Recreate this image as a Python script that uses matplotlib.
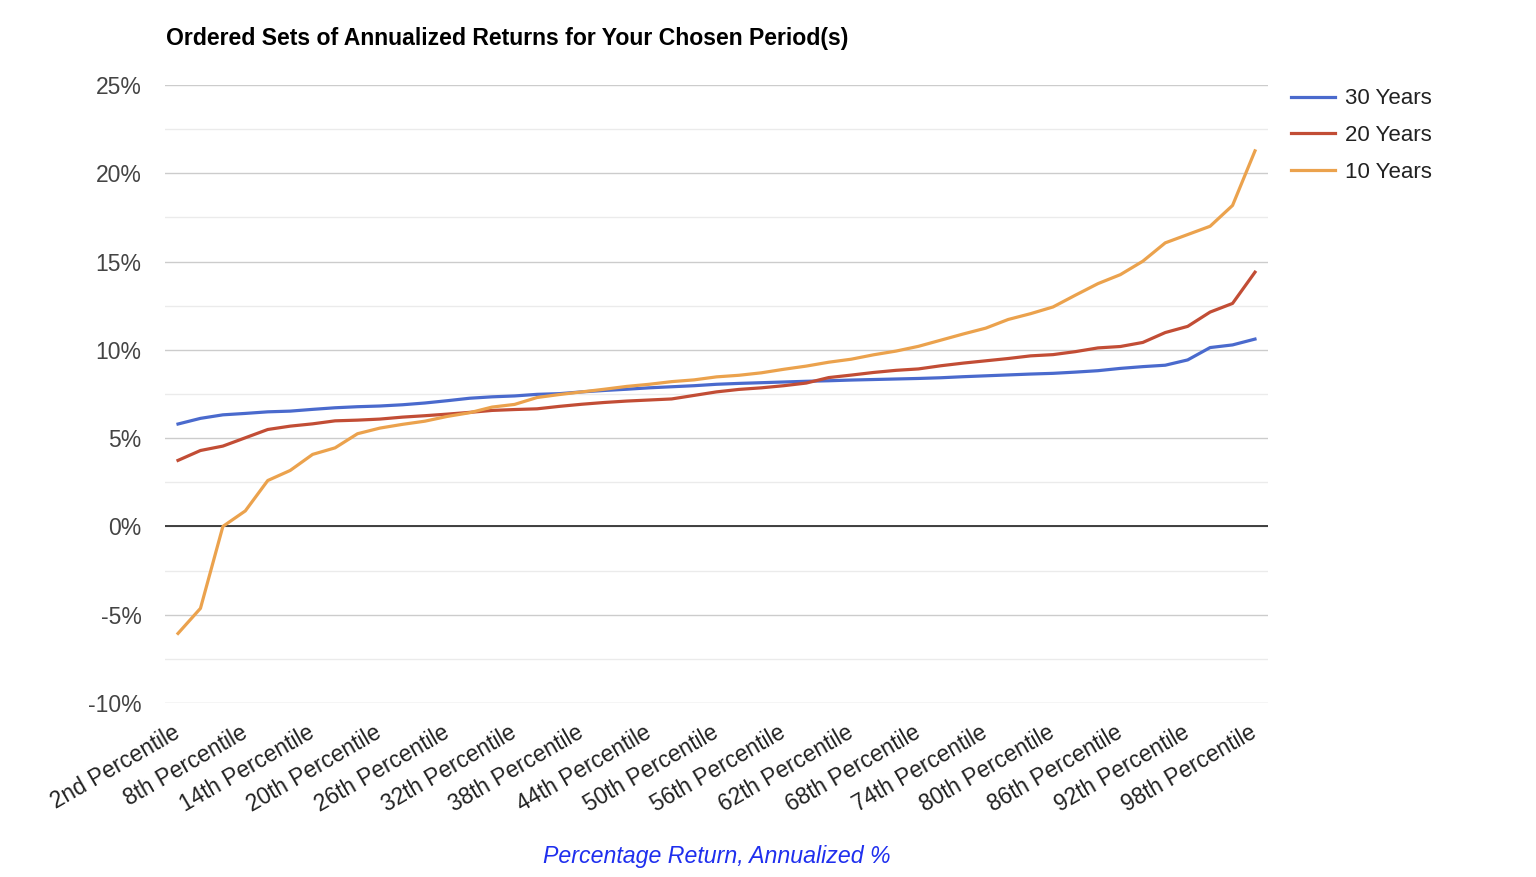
import numpy as np
import matplotlib.pyplot as plt

plt.rcParams['font.family'] = ['Liberation Sans', 'DejaVu Sans']

#%% Data (annualized return, %)

pct = list(range(2, 100, 2))
labels = [f"{p}{'nd' if p == 2 else 'th'} Percentile" for p in pct]

ret_30y = [5.80, 6.12, 6.32, 6.40, 6.49, 6.53, 6.63, 6.72, 6.78, 6.82,
           6.89, 6.99, 7.12, 7.26, 7.34, 7.39, 7.48, 7.52, 7.62, 7.70,
           7.77, 7.85, 7.91, 7.97, 8.05, 8.10, 8.14, 8.18, 8.22, 8.25,
           8.29, 8.32, 8.35, 8.38, 8.42, 8.48, 8.53, 8.58, 8.63, 8.67,
           8.74, 8.82, 8.95, 9.05, 9.13, 9.43, 10.13, 10.28, 10.61]

ret_20y = [3.74, 4.30, 4.55, 5.02, 5.49, 5.68, 5.81, 5.98, 6.02, 6.08,
           6.19, 6.27, 6.36, 6.46, 6.57, 6.62, 6.66, 6.80, 6.92, 7.02,
           7.10, 7.16, 7.22, 7.42, 7.62, 7.76, 7.85, 7.97, 8.12, 8.43,
           8.57, 8.72, 8.84, 8.92, 9.10, 9.25, 9.38, 9.51, 9.66, 9.73,
           9.90, 10.11, 10.19, 10.42, 10.98, 11.33, 12.14, 12.63, 14.40]

ret_10y = [-6.06, -4.64, 0.00, 0.88, 2.60, 3.17, 4.08, 4.45, 5.25, 5.57,
           5.78, 5.96, 6.23, 6.44, 6.76, 6.91, 7.30, 7.47, 7.62, 7.77,
           7.93, 8.05, 8.20, 8.30, 8.47, 8.56, 8.70, 8.90, 9.08, 9.30,
           9.47, 9.72, 9.93, 10.20, 10.55, 10.90, 11.23, 11.72, 12.05, 12.43,
           13.10, 13.75, 14.26, 15.02, 16.06, 16.53, 17.00, 18.18, 21.27]

series = [("30 Years", ret_30y, '#4a6acd'),
          ("20 Years", ret_20y, '#c24d35'),
          ("10 Years", ret_10y, '#eba24d')]

#%% Plot

fig = plt.figure(figsize=(15.36, 8.77), dpi=100)
ax = fig.add_axes([165/1536, 1-703/877, 1103/1536, 618/877])

x = np.arange(len(pct))
for name, vals, col in series:
    ax.plot(x, vals, color=col, lw=2.3, label=name, zorder=3)

ax.set_xlim(-0.58, len(pct) - 1 + 0.58)
ax.set_ylim(-10, 25)

ax.set_yticks(np.arange(-10, 26, 5))
ax.set_yticklabels([f"{v}%" for v in range(-10, 26, 5)])
ax.set_yticks(np.arange(-7.5, 25, 5), minor=True)
ax.grid(True, axis='y', which='major', color='#cccccc', lw=1.0)
ax.grid(True, axis='y', which='minor', color='#ebebeb', lw=1.0)
ax.axhline(0, color='#333333', lw=1.3, zorder=2)

tick_idx = x[::3]
ax.set_xticks(tick_idx)
ax.set_xticklabels([labels[i] for i in tick_idx], rotation=30, ha='right',
                   rotation_mode='anchor', va='center')

ax.tick_params(axis='y', which='both', length=0, pad=17, labelsize=16.5, labelcolor='#444444')
ax.tick_params(axis='x', length=0, pad=20, labelsize=16.3, labelcolor='#222222')
for s in ax.spines.values():
    s.set_visible(False)

fig.text(166/1536, 1-38/877, "Ordered Sets of Annualized Returns for Your Chosen Period(s)",
         fontsize=16.6, fontweight='bold', va='center', ha='left', color='#000000')

fig.text(716.5/1536, 1-857/877, "Percentage Return, Annualized %",
         fontsize=16.7, style='italic', color='#1f2fee', ha='center', va='center')

ax.legend(loc='upper left', bbox_to_anchor=(1117/1103, 1.009), frameon=False,
          fontsize=16, handlelength=2.0, handletextpad=0.45, labelspacing=0.71,
          labelcolor='#222222', borderaxespad=0)

plt.savefig("out.png", dpi=100)
